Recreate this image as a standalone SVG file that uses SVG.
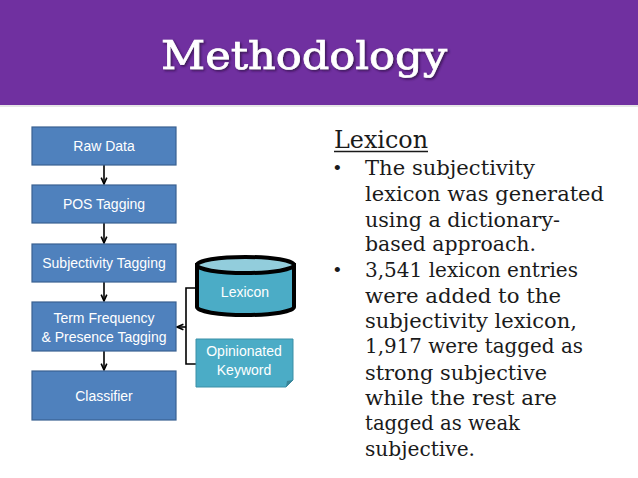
<svg xmlns="http://www.w3.org/2000/svg" width="638" height="478" viewBox="0 0 638 478">
<defs>
<style>
.box{fill:#4F81BD;stroke:#3A6191;stroke-width:1.2}
.bt{fill:#fff;font-family:"Liberation Sans",Arial,sans-serif;font-size:14px;text-anchor:middle}
.conn{stroke:#000;stroke-width:1.6;fill:none}
.body{font-family:"DejaVu Serif","Liberation Serif",serif;font-size:19.5px;fill:#1a1a1a}
.bul{font-family:"Liberation Sans",Arial,sans-serif;font-size:19px;fill:#1a1a1a}
</style>
<marker id="ah" viewBox="0 0 10 10" refX="9" refY="5" markerWidth="8" markerHeight="8" orient="auto" markerUnits="userSpaceOnUse">
<path d="M1,1.5 L9,5 L1,8.5" fill="none" stroke="#000" stroke-width="2"/>
</marker>
<filter id="sh" x="-5%" y="-20%" width="110%" height="140%">
<feDropShadow dx="1.5" dy="1.5" stdDeviation="0.8" flood-color="#2a0a40" flood-opacity="0.8"/>
</filter>
</defs>
<rect width="638" height="478" fill="#fff"/>
<rect x="0" y="0" width="638" height="105" fill="#7030A0"/>
<rect x="0" y="105" width="638" height="2" fill="#e6e6e6"/>
<text x="304" y="69" text-anchor="middle" font-family="DejaVu Serif,'Liberation Serif',serif" font-size="40" fill="#fff" stroke="#fff" stroke-width="0.7" filter="url(#sh)" textLength="286" lengthAdjust="spacingAndGlyphs">Methodology</text>

<g id="connectors">
<line class="conn" x1="104" y1="165" x2="104" y2="184" marker-end="url(#ah)"/>
<line class="conn" x1="104" y1="223" x2="104" y2="243" marker-end="url(#ah)"/>
<line class="conn" x1="104" y1="282" x2="104" y2="301" marker-end="url(#ah)"/>
<line class="conn" x1="104" y1="351" x2="104" y2="370" marker-end="url(#ah)"/>
<polyline class="conn" points="196,288 186,288 186,364 196,364"/>
<line class="conn" x1="186" y1="327" x2="177" y2="327" marker-end="url(#ah)"/>
</g>

<g id="raw-data"><rect class="box" x="32" y="127" width="144" height="38"/><text class="bt" x="104" y="151">Raw Data</text></g>
<g id="pos-tagging"><rect class="box" x="32" y="185" width="144" height="38"/><text class="bt" x="104" y="209">POS Tagging</text></g>
<g id="subjectivity-tagging"><rect class="box" x="32" y="244" width="144" height="38"/><text class="bt" x="104" y="268">Subjectivity Tagging</text></g>
<g id="term-frequency"><rect class="box" x="32" y="302" width="144" height="49"/><text class="bt" x="104" y="323">Term Frequency</text><text class="bt" x="104" y="342">&amp; Presence Tagging</text></g>
<g id="classifier"><rect class="box" x="32" y="371" width="144" height="49"/><text class="bt" x="104" y="401">Classifier</text></g>

<g id="lexicon">
<path d="M197,265 L197,307 A48.5,8 0 0 0 294,307 L294,265 Z" fill="#4BACC6" stroke="#000" stroke-width="4"/>
<ellipse cx="245.5" cy="265" rx="48.5" ry="8" fill="#92CDDC" stroke="#000" stroke-width="4"/>
<text class="bt" x="245" y="297">Lexicon</text>
</g>
<g id="opinionated-keyword">
<path d="M196,339 L293,339 L293,380 L286,387 L196,387 Z" fill="#4BACC6" stroke="#3A8FA6" stroke-width="1"/>
<path d="M293,380 L287,381 L286,387 Z" fill="#3A8497"/>
<text class="bt" x="244" y="356">Opinionated</text>
<text class="bt" x="244" y="375">Keyword</text>
</g>

<g id="text">
<text x="334" y="148" font-family="DejaVu Serif,'Liberation Serif',serif" font-size="24" fill="#1a1a1a" textLength="94" lengthAdjust="spacingAndGlyphs">Lexicon</text>
<line x1="334" y1="151.5" x2="428" y2="151.5" stroke="#1a1a1a" stroke-width="1.5"/>
<text class="bul" x="334" y="174">•</text>
<text class="bul" x="334" y="276">•</text>
<g class="body">
<text x="365" y="175" textLength="170" lengthAdjust="spacingAndGlyphs">The subjectivity</text>
<text x="365" y="201" textLength="239" lengthAdjust="spacingAndGlyphs">lexicon was generated</text>
<text x="365" y="227" textLength="195" lengthAdjust="spacingAndGlyphs">using a dictionary-</text>
<text x="365" y="251" textLength="171" lengthAdjust="spacingAndGlyphs">based approach.</text>
<text x="365" y="277" textLength="213" lengthAdjust="spacingAndGlyphs">3,541 lexicon entries</text>
<text x="365" y="303" textLength="196" lengthAdjust="spacingAndGlyphs">were added to the</text>
<text x="365" y="328" textLength="212" lengthAdjust="spacingAndGlyphs">subjectivity lexicon,</text>
<text x="365" y="353" textLength="218" lengthAdjust="spacingAndGlyphs">1,917 were tagged as</text>
<text x="365" y="380" textLength="182" lengthAdjust="spacingAndGlyphs">strong subjective</text>
<text x="365" y="405" textLength="192" lengthAdjust="spacingAndGlyphs">while the rest are</text>
<text x="365" y="430" textLength="155" lengthAdjust="spacingAndGlyphs">tagged as weak</text>
<text x="365" y="456" textLength="110" lengthAdjust="spacingAndGlyphs">subjective.</text>
</g>
</g>
</svg>
